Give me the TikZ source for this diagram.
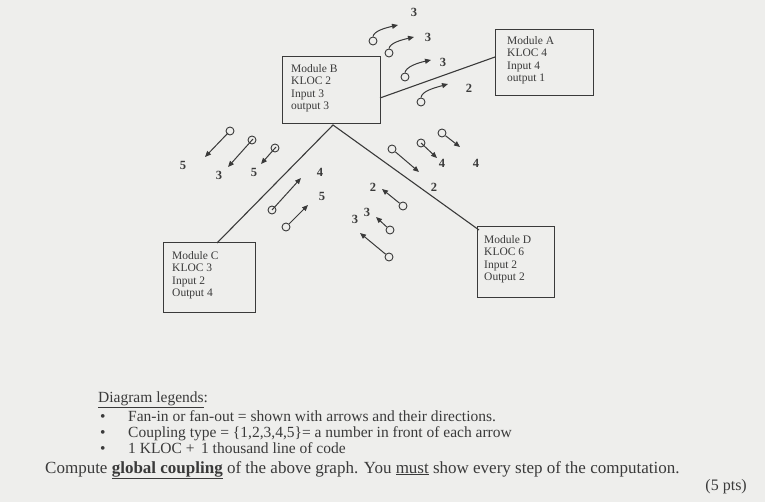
\documentclass[tikz,border=0pt]{standalone}
\usepackage{fontspec}
\setmainfont{Liberation Serif}
\usetikzlibrary{arrows.meta}
\definecolor{paper}{HTML}{EEEEEC}
\definecolor{ink}{HTML}{3A3A3A}
\begin{document}
\begin{tikzpicture}[x=1pt,y=-1pt,
  mbox/.style={align=left,font=\fontsize{11.5}{12.5}\selectfont,text=ink,inner sep=0pt,anchor=north west},
  link/.style={draw=ink,line width=1.1pt},
  ring/.style={circle,draw=ink,line width=0.9pt,minimum size=8pt,inner sep=0pt},
  flow/.style={draw=ink,line width=1pt,-{Triangle[length=6pt,width=5pt]}},
  num/.style={font=\bfseries\fontsize{12.5}{12.5}\selectfont,text=ink,inner sep=0pt},
  leg/.style={font=\fontsize{15.5}{16}\selectfont,text=ink,anchor=base west,inner sep=0pt}]
\useasboundingbox (0,0) rectangle (765,502);
\fill[paper] (0,0) rectangle (765,502);
% boxes
\draw[draw=ink,line width=1pt] (282,57) rectangle (380,124);
\node[mbox] (B) at (291,64) {Module B\\KLOC 2\\Input 3\\output 3};
\draw[draw=ink,line width=1pt] (495,30) rectangle (593,96);
\node[mbox] (A) at (507,36) {Module A\\KLOC 4\\Input 4\\output 1};
\draw[draw=ink,line width=1pt] (163,243) rectangle (255,313);
\node[mbox] (C) at (172,251) {Module C\\KLOC 3\\Input 2\\Output 4};
\draw[draw=ink,line width=1pt] (477,227) rectangle (554,298);
\node[mbox] (D) at (484,235) {Module D\\KLOC 6\\Input 2\\Output 2};
\coordinate (Bapex) at (333,125);
\coordinate (Bright) at (380,98);
\coordinate (Aleft) at (495,57);
\coordinate (Ctop) at (217,243);
\coordinate (Dtop) at (479,230);
\draw[link] (Bright) -- (Aleft);
\draw[link] (Ctop) -- (Bapex) -- (Dtop);
% top arrows (curved)
\node[ring] (t1) at (373,41) {};
\coordinate (t1e) at (398,25);
\draw[flow] (t1.north) .. controls (374,31) and (385,28) .. (t1e);
\node[ring] (t2) at (389,53) {};
\coordinate (t2e) at (414,37);
\draw[flow] (t2.north) .. controls (390,43) and (401,40) .. (t2e);
\node[ring] (t3) at (405,77) {};
\coordinate (t3e) at (431,60);
\draw[flow] (t3.north) .. controls (406,67) and (417,63) .. (t3e);
\node[ring] (t4) at (421,102) {};
\coordinate (t4e) at (448,84);
\draw[flow] (t4.north) .. controls (422,91) and (434,88) .. (t4e);
\node[num] (n1) at (414,12) {3};
\node[num] (n2) at (428,37) {3};
\node[num] (n3) at (443,62) {3};
\node[num] (n4) at (469,88) {2};
% left arrows
\node[ring] (l1) at (230,131) {};
\coordinate (l1e) at (205,157);
\draw[flow] (l1.center) ++(-2,2) -- (l1e);
\node[ring] (l2) at (252,140) {};
\coordinate (l2e) at (228,167);
\draw[flow] (l2.center) ++(1,-1) -- (l2e);
\node[ring] (l3) at (275,148) {};
\coordinate (l3e) at (261,164);
\draw[flow] (l3.center) ++(1,-1) -- (l3e);
\node[num] (n5) at (183,165) {5};
\node[num] (n6) at (219,175) {3};
\node[num] (n7) at (254,172) {5};
% lower-left arrows
\node[ring] (u1) at (272,210) {};
\coordinate (u1e) at (301,178);
\draw[flow] (u1.center) -- (u1e);
\node[ring] (u2) at (286,227) {};
\coordinate (u2e) at (308,205);
\draw[flow] (u2) -- (u2e);
\node[num] (n8) at (320,172) {4};
\node[num] (n9) at (322,196) {5};
% middle arrows (up-left)
\node[ring] (m1) at (403,206) {};
\coordinate (m1e) at (382,189);
\draw[flow] (m1) -- (m1e);
\node[ring] (m2) at (390,230) {};
\coordinate (m2e) at (376,217);
\draw[flow] (m2) -- (m2e);
\node[ring] (m3) at (389,257) {};
\coordinate (m3e) at (360,233);
\draw[flow] (m3) -- (m3e);
\node[num] (n10) at (373,187) {2};
\node[num] (n11) at (367,212) {3};
\node[num] (n12) at (355,219) {3};
% right arrows (down-right)
\node[ring] (r1) at (392,149) {};
\coordinate (r1e) at (419,172);
\draw[flow] (r1) -- (r1e);
\node[ring] (r2) at (421,143) {};
\coordinate (r2e) at (437,158);
\draw[flow] (r2.center) -- (r2e);
\node[ring] (r3) at (442,133) {};
\coordinate (r3e) at (460,147);
\draw[flow] (r3) -- (r3e);
\node[num] (n13) at (442,163) {4};
\node[num] (n14) at (476,163) {4};
\node[num] (n15) at (434,187) {2};
% legend
\node[leg] (lg) at (98,402) {\underline{Diagram legends}:};
\node[leg] (b1) at (100,421) {\textbullet};
\node[leg] (i1) at (128,421) {Fan-in or fan-out = shown with arrows and their directions.};
\node[leg] (b2) at (100,437) {\textbullet};
\node[leg] (i2) at (128,437) {Coupling type = \{1,2,3,4,5\}= a number in front of each arrow};
\node[leg] (b3) at (100,453) {\textbullet};
\node[leg] (i3) at (128,453) {1 KLOC +\, 1 thousand line of code};
\node[leg,font=\fontsize{17}{18}\selectfont] (q) at (45,473) {Compute \underline{\textbf{global coupling}} of the above graph. You \underline{must} show every step of the computation.};
\node[leg,anchor=base east,font=\fontsize{16}{17}\selectfont] (pts) at (747,490) {(5 pts)};
\end{tikzpicture}
\end{document}
